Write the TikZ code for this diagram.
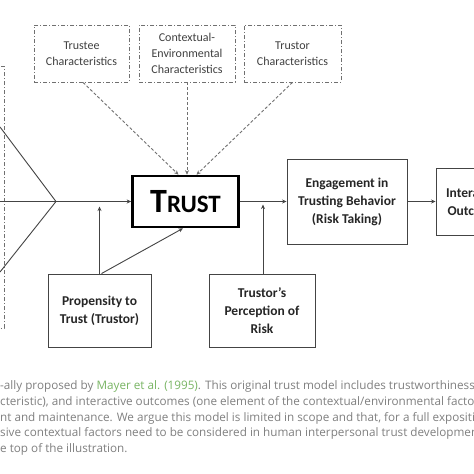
\documentclass[tikz,border=0pt]{standalone}
\usepackage{fontspec}
\setmainfont{Carlito}
\newfontfamily\capfont{Open Sans}
\usetikzlibrary{arrows.meta,calc}
\definecolor{capgray}{HTML}{808080}
\definecolor{capgreen}{HTML}{79B564}
\definecolor{linegray}{HTML}{444444}
\definecolor{dashgray}{HTML}{707070}
\begin{document}
\begin{tikzpicture}[x=1pt,y=-1pt,
  box/.style={draw=linegray, line width=0.9pt, align=center, inner sep=0pt,
    font=\bfseries\fontsize{13.5}{18}\selectfont, text=black!85},
  dbox/.style={draw=dashgray, line width=0.8pt, dash pattern=on 4pt off 2pt on 1pt off 2pt,
    align=center, inner sep=0pt, font=\fontsize{12}{16}\selectfont, text=black!75},
  trustbox/.style={draw=black, line width=2.6pt, inner sep=0pt},
  conn/.style={draw=linegray, line width=0.9pt},
  arr/.style={conn, -{Stealth[length=4.5pt,width=4pt]}},
  darr/.style={draw=dashgray, line width=0.9pt, dash pattern=on 3pt off 2pt, -{Stealth[length=4.5pt,width=4pt]}},
  captext/.style={anchor=base west, inner sep=0pt, font=\capfont\fontsize{11.7}{12}\selectfont, text=capgray}
]
\useasboundingbox (0,0) rectangle (474,474);
\clip (0,0) rectangle (474,474);
\fill[white] (0,0) rectangle (474,474);

% top dashed boxes
\node[dbox, minimum width=95pt, minimum height=57pt] (trustee) at (81.5,53.5) {Trustee\\Characteristics};
\node[dbox, minimum width=96pt, minimum height=57pt] (context) at (187,53.5) {Contextual-\\Environmental\\Characteristics};
\node[dbox, minimum width=97pt, minimum height=57pt] (trustor) at (292.5,53.5) {Trustor\\Characteristics};

% left (cropped) dashed box
\node[dbox, minimum width=108pt, minimum height=262pt] (tw) at (-50,197) {};

% main boxes
\node[trustbox, minimum width=106pt, minimum height=51pt] (trust) at (185.5,201.5)
  {\bfseries\fontsize{34}{34}\selectfont T\fontsize{25}{25}\selectfont RUST};
\node[box, minimum width=120pt, minimum height=85pt] (eng) at (347,201.5) {Engagement in\\Trusting Behavior\\(Risk Taking)};
\node[box, minimum width=80pt, minimum height=67pt] (inter) at (476,201.5) {Interactive\\Outcomes};
\node[box, minimum width=103pt, minimum height=73pt] (prop) at (99.5,310.5) {Propensity to\\Trust (Trustor)};
\node[box, minimum width=106pt, minimum height=73pt] (perc) at (262,310.5) {Trustor's\\Perception of\\Risk};

% left converging lines
\coordinate (l1) at (0,127);
\coordinate (l2) at (0,201.5);
\coordinate (l3) at (0,272);
\coordinate (apex) at (56,201.5);
\draw[conn] (l1) -- (apex) -- (l3);
\draw[arr] (l2) -- (trust.west);

% dashed arrows from top boxes
\draw[darr] ($(trustee.south)+(1.5,0)$) -- ($(trust.north)+(-7,0)$);
\draw[darr] (context.south) -- (context.south |- trust.north);
\draw[darr] (trustor.south) -- ($(trust.north)+(11,0)$);

% propensity
\draw[arr] (prop.north) -- ++(0,-67);
\draw[arr] ($(prop.north)+(2,0)$) -- ($(trust.south)+(-2.5,0)$);

% perception
\draw[arr] ($(perc.north)+(1,0)$) -- ++(0,-69);

% chain
\draw[arr] (trust.east) -- (eng.west);
\draw[arr] (eng.east) -- (inter.west);

% caption (cropped)
\node[captext] (c1) at (0,389) {-ally proposed by \textcolor{capgreen}{Mayer et al. (1995)}. This original trust model includes trustworthiness (};
\node[captext] (c2) at (0,405) {cteristic), and interactive outcomes (one element of the contextual/environmental factors};
\node[captext] (c3) at (0,421) {nt and maintenance. We argue this model is limited in scope and that, for a full exposition};
\node[captext] (c4) at (0,436.5) {sive contextual factors need to be considered in human interpersonal trust development};
\node[captext] (c5) at (0,452) {e top of the illustration.};
\end{tikzpicture}
\end{document}
